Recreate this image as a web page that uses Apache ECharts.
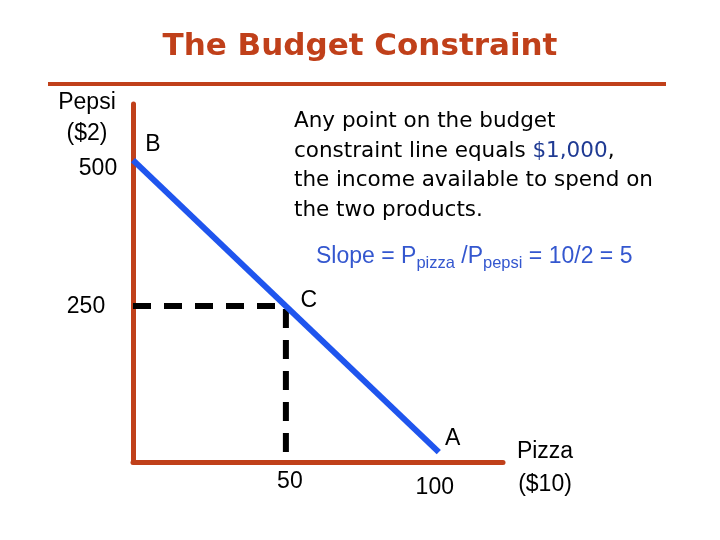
<!DOCTYPE html>
<html>
<head>
<meta charset="utf-8">
<script src="https://cdn.jsdelivr.net/npm/echarts@6/dist/echarts.min.js"></script>
<style>html,body{margin:0;padding:0;background:#fff;}#c{width:720px;height:540px;}</style>
</head>
<body>
<div id="c"></div>
<script>
// ---- data ----
var budgetPizza = [0, 100];
var budgetPepsi = [500, 0];
var pointNames = ['B', 'C', 'A'];
var pointPizza = [0, 50, 100];
var pointPepsi = [500, 250, 0];
var yTickValues = [500, 250];
var xTickValues = [50, 100];
var xRange = [0, 121];
var yRange = [-17, 596];

var ORANGE = '#C0401A';
var BLUE = '#1F55EE';
var LABEL_FONT = '"Liberation Sans", Arial, sans-serif';
var HAND_FONT = '"DejaVu Sans", sans-serif';

var chart = echarts.init(document.getElementById('c'), null, {renderer: 'canvas'});

var budgetLine = budgetPizza.map(function (x, i) { return [x, budgetPepsi[i]]; });
var cIdx = 1;
var dashH = [[0, pointPepsi[cIdx]], [pointPizza[cIdx], pointPepsi[cIdx]]];
var dashV = [[pointPizza[cIdx], pointPepsi[cIdx]], [pointPizza[cIdx], 0]];

var labelStyle = {show: true, position: 'inside', formatter: '{b}', fontFamily: LABEL_FONT, fontSize: 23, color: '#000000', textBorderWidth: 0, opacity: 1};

var pointOffsets = [[20, -15], [23, -5], [14, -13]];
var pointData = pointNames.map(function (n, i) {
  return {value: [pointPizza[i], pointPepsi[i]], name: n, label: Object.assign({}, labelStyle, {offset: pointOffsets[i]})};
});
var yTickOffsets = [[-35, 9], [-47, 1]];
var xTickOffsets = [[4, 30], [-4, 36]];
var tickData = yTickValues.map(function (v, i) {
  return {value: [0, v], name: String(v), label: Object.assign({}, labelStyle, {offset: yTickOffsets[i]})};
}).concat(xTickValues.map(function (v, i) {
  return {value: [v, 0], name: String(v), label: Object.assign({}, labelStyle, {offset: xTickOffsets[i]})};
}));

var option = {
  animation: false,
  backgroundColor: '#ffffff',
  title: [
    {
      text: 'The Budget Constraint',
      left: 'center',
      top: 26,
      textStyle: {fontFamily: HAND_FONT, fontWeight: 'bold', fontSize: 31, color: ORANGE}
    },
    {
      text: 'Any point on the budget\nconstraint line equals {b|$1,000},\nthe income available to spend on\nthe two products.',
      left: 289,
      top: 102,
      textStyle: {
        fontFamily: HAND_FONT, fontSize: 21.5, color: '#000', lineHeight: 29.5, fontWeight: 'normal',
        rich: {b: {fontFamily: HAND_FONT, fontSize: 21.5, color: '#1F3A93', lineHeight: 29.5}}
      }
    },
    {
      text: 'Slope = P{s|pizza} /P{s|pepsi} = 10/2 = 5',
      left: 311,
      top: 236,
      textStyle: {
        fontFamily: LABEL_FONT, fontSize: 23, color: '#3457CF', lineHeight: 31, fontWeight: 'normal',
        rich: {s: {fontFamily: LABEL_FONT, fontSize: 16.5, color: '#3457CF', verticalAlign: 'bottom', lineHeight: 17}}
      }
    }
  ],
  graphic: [
    {type: 'line', shape: {x1: 48, y1: 84, x2: 666, y2: 84}, style: {stroke: ORANGE, lineWidth: 4}}
  ],
  grid: {left: 133, right: 217, top: 104, bottom: 78, containLabel: false},
  xAxis: {
    type: 'value', min: xRange[0], max: xRange[1],
    name: '{e| }\nPizza\n($10)', nameLocation: 'end', nameGap: 42,
    nameTextStyle: {
      fontFamily: LABEL_FONT, fontSize: 23, color: '#000', align: 'center', verticalAlign: 'middle', lineHeight: 33,
      rich: {e: {fontSize: 1, lineHeight: 13}}
    },
    axisLine: {show: true, onZero: false, lineStyle: {color: ORANGE, width: 5}},
    axisTick: {show: false}, axisLabel: {show: false}, splitLine: {show: false}
  },
  yAxis: {
    type: 'value', min: yRange[0], max: yRange[1],
    name: 'Pepsi\n($2)', nameLocation: 'end', nameGap: -14,
    nameTextStyle: {fontFamily: LABEL_FONT, fontSize: 23, color: '#000', align: 'center', verticalAlign: 'middle', lineHeight: 31, padding: [0, 92, 0, 0]},
    axisLine: {show: true, onZero: false, lineStyle: {color: ORANGE, width: 5}},
    axisTick: {show: false}, axisLabel: {show: false}, splitLine: {show: false}
  },
  series: [
    {
      type: 'line', name: 'budget', data: budgetLine, symbol: 'none',
      lineStyle: {color: BLUE, width: 6}, z: 3
    },
    {
      type: 'line', name: 'dashH', data: dashH, symbol: 'none',
      lineStyle: {color: '#000', width: 6, type: [18, 13]}, z: 2
    },
    {
      type: 'line', name: 'dashV', data: dashV, symbol: 'none',
      lineStyle: {color: '#000', width: 6, type: [19, 12], dashOffset: -3}, z: 2
    },
    {
      type: 'scatter', name: 'points', data: pointData, symbolSize: 1,
      itemStyle: {color: 'rgba(255,255,255,0)'},
      label: labelStyle,
      z: 4
    },
    {
      type: 'scatter', name: 'ticks', data: tickData, symbolSize: 1,
      itemStyle: {color: 'rgba(255,255,255,0)'},
      label: labelStyle,
      z: 4
    }
  ]
};
chart.setOption(option);
</script>
</body>
</html>
